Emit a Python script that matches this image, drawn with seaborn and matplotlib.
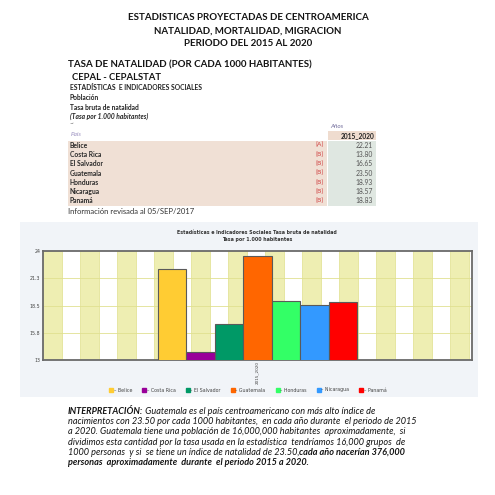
import numpy as np
import pandas as pd
import matplotlib
matplotlib.use("Agg")
import matplotlib.pyplot as plt
import seaborn as sns
from matplotlib.patches import Rectangle
from matplotlib.lines import Line2D

# ---------------- data ----------------
countries = ["Belice", "Costa Rica", "El Salvador", "Guatemala", "Honduras", "Nicaragua", "Panamá"]
notes = ["[A]", "[B]", "[B]", "[B]", "[B]", "[B]", "[B]"]
rates = [22.21, 13.80, 16.65, 23.50, 18.93, 18.57, 18.83]
period = "2015_2020"
colors = ["#FFCC33", "#990099", "#009966", "#FF6600", "#33FF66", "#3399FF", "#FF0000"]
yticks = [13, 15.75, 18.5, 21.25, 24]
ytick_labels = ["13", "15.8", "18.5", "21.3", "24"]

W = 495
sns.set_theme(style="white")
plt.rcParams['font.family'] = ['Lato', 'DejaVu Sans']

fig = plt.figure(figsize=(4.95, 4.95), dpi=100)
fig.patch.set_facecolor("white")

bg = fig.add_axes([0, 0, 1, 1])
bg.set_xlim(0, W)
bg.set_ylim(W, 0)
bg.axis("off")

DARK = "#141414"

# ---------------- header ----------------
for t, y in [("ESTADISTICAS PROYECTADAS DE CENTROAMERICA", 18),
             ("NATALIDAD, MORTALIDAD, MIGRACION", 31),
             ("PERIODO DEL 2015 AL 2020", 43)]:
    bg.text(248, y, t, ha="center", va="center", fontsize=7, fontweight="bold", color=DARK)

bg.text(68, 65, "TASA DE NATALIDAD (POR CADA 1000 HABITANTES)", ha="left", va="center",
        fontsize=7, fontweight="bold", color=DARK)
bg.text(72, 77, "CEPAL - CEPALSTAT", ha="left", va="center", fontsize=6.8, fontweight="bold", color=DARK)
bg.text(70, 88, "ESTADÍSTICAS  E INDICADORES SOCIALES", ha="left", va="center", fontsize=4.9,
        fontweight="bold", color="#222222")
bg.text(70, 98, "Población", ha="left", va="center", fontsize=4.8, fontweight="bold", color="#222222")
bg.text(70, 107, "Tasa bruta de natalidad", ha="left", va="center", fontsize=4.8, fontweight="bold", color="#222222")
bg.text(70, 116.5, "(Tasa por 1.000 habitantes)", ha="left", va="center", fontsize=4.8,
        fontweight="bold", style="italic", color="#222222")
bg.text(70, 124, "~", ha="left", va="center", fontsize=4.6, color="#444444")
bg.text(330, 126, "Años", ha="left", va="center", fontsize=4.6, style="italic", color="#6f6a9a")
bg.text(71, 135, "País", ha="left", va="center", fontsize=4.6, style="italic", color="#9a90c0")

# table backgrounds
bg.add_patch(Rectangle((328, 130.5), 48, 9.5, facecolor="#efdccf", edgecolor="none"))
bg.text(374, 135.3, period, ha="right", va="center", fontsize=4.8, fontweight="bold", color="#222222")
row0, rh = 140.5, 9.3
bg.add_patch(Rectangle((68, row0), 259, rh * 7, facecolor="#f0e0d5", edgecolor="none"))
bg.add_patch(Rectangle((328, row0), 48, rh * 7, facecolor="#dfe7e1", edgecolor="none"))
for i, (c, n, v) in enumerate(zip(countries, notes, rates)):
    yc = row0 + rh * (i + 0.5)
    bg.text(70, yc, c, ha="left", va="center", fontsize=4.9, fontweight="bold", color="#2a2a2a")
    bg.text(320, yc, n, ha="center", va="center", fontsize=4.6, color="#d04040")
    bg.text(373, yc, f"{v:.2f}", ha="right", va="center", fontsize=4.9, color="#555555")
bg.text(68, 211, "Información revisada al 05/SEP/2017", ha="left", va="center", fontsize=5.5, color="#333333")

# ---------------- chart container ----------------
bg.add_patch(Rectangle((20, 222), 458, 175, facecolor="#f1f4f8", edgecolor="none"))
bg.text(257, 232, "Estadísticas e Indicadores Sociales Tasa bruta de natalidad", ha="center", va="center",
        fontsize=3.4, fontweight="bold", color="#333333", family="DejaVu Sans")
bg.text(257, 239, "Tasa por 1.000 habitantes", ha="center", va="center",
        fontsize=3.4, fontweight="bold", color="#333333", family="DejaVu Sans")

df = pd.DataFrame({"period": [period] * len(countries), "country": countries, "rate": rates})

ax = fig.add_axes([43 / W, 1 - 360 / W, (472 - 43) / W, (360 - 251) / W])
ax.set_facecolor("white")
sns.barplot(data=df, x="period", y="rate", hue="country", hue_order=countries, palette=colors,
            saturation=1, width=0.466, edgecolor="#5a5a5a", linewidth=0.8, legend=False, ax=ax, zorder=3)
ax.set_xlim(-0.5, 0.5)
ax.set_ylim(yticks[0], yticks[-1])
for k in range(12):
    x0 = -0.5 + k * 37 / 429
    ax.axvspan(x0, x0 + 19 / 429, facecolor="#eeeeb2", edgecolor="#e0e08c", lw=0.5, zorder=0)
for yv in yticks[1:-1]:
    ax.axhline(yv, color="#e0e090", lw=0.6, zorder=1)
ax.set_yticks(yticks)
ax.set_yticklabels(ytick_labels, fontsize=3.4, color="#444444", family="DejaVu Sans")
ax.set_xticks([0])
ax.set_xticklabels([period], rotation=90, fontsize=3.0, color="#444444", family="DejaVu Sans")
ax.tick_params(axis="y", length=0, pad=2)
ax.tick_params(axis="x", length=0, pad=1)
ax.set_xlabel("")
ax.set_ylabel("")
for side, sp in ax.spines.items():
    sp.set_visible(True)
    sp.set_color("#6a6a6a")
    sp.set_linewidth(1.3)

handles = [Line2D([0], [0], marker="s", color=c, ls="", markersize=2.6) for c in colors]
labels = ["– " + c for c in countries]
fig.legend(handles, labels, loc="center", bbox_to_anchor=(248 / W, 1 - 390 / W), ncol=7, frameon=False,
           prop={"family": "DejaVu Sans", "size": 3.4}, handletextpad=0.1, columnspacing=2.2,
           handlelength=0.8, labelcolor="#444444")

# ---------------- interpretation ----------------
lines = [
    [("INTERPRETACIÓN:", True), (" Guatemala es el país centroamericano con más alto índice de", False)],
    [("nacimientos con 23.50 por cada 1000 habitantes,  en cada año durante  el periodo de 2015", False)],
    [("a 2020. Guatemala tiene una población de 16,000,000 habitantes  aproximadamente,  si", False)],
    [("dividimos esta cantidad por la tasa usada en la estadística  tendríamos 16,000 grupos  de", False)],
    [("1000 personas  y si  se tiene un índice de natalidad de 23.50,", False), ("cada año nacerían 376,000", True)],
    [("personas  aproximadamente  durante  el periodo 2015 a 2020.", True)],
]
fig.canvas.draw()
renderer = fig.canvas.get_renderer()
inv = bg.transData.inverted()
for i, parts in enumerate(lines):
    y = 414 + i * 10.2
    x = 68
    for txt, bold in parts:
        t = bg.text(x, y, txt, ha="left", va="baseline", fontsize=6.6, style="italic",
                    fontweight="bold" if bold else "normal", color=DARK)
        ext = t.get_window_extent(renderer)
        x = inv.transform((ext.x1, ext.y0))[0]

fig.savefig("out.png", dpi=100, facecolor="white")
